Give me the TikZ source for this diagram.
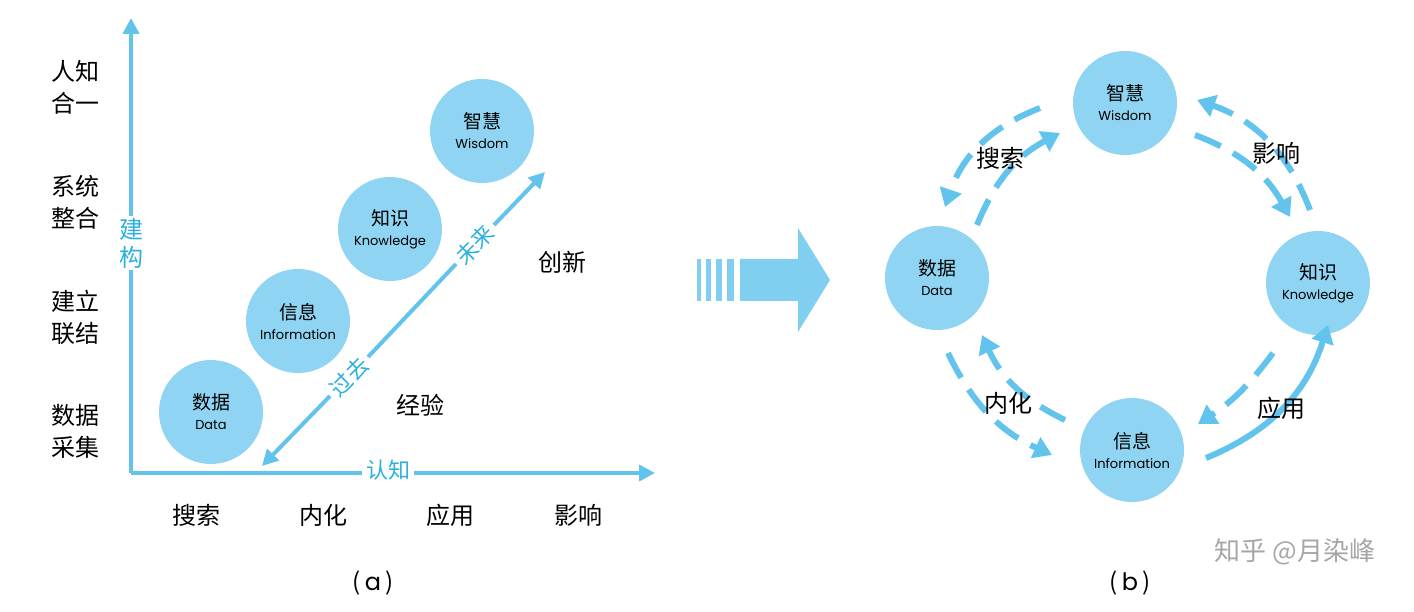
\documentclass[tikz,border=0pt]{standalone}
\usepackage{fontspec}
\setmainfont{Noto Sans CJK SC}
\newfontfamily\en{Poppins}
\usetikzlibrary{arrows.meta}
\definecolor{cb}{HTML}{8FD4F2}
\definecolor{ca}{HTML}{62C3EC}
\definecolor{cl}{HTML}{2BB0E0}
\begin{document}
\begin{tikzpicture}[x=1pt,y=-1pt,
  ball/.style={circle,fill=cb,minimum size=104pt,inner sep=0pt,align=center,font=\fontsize{19}{20}\selectfont},
  lbl/.style={font=\fontsize{24}{32}\selectfont,align=center},
  clbl/.style={font=\fontsize{22}{24}\selectfont,text=cl},
  ax/.style={ca,line width=4pt,-{Triangle[length=16pt,width=16pt]}},
  axl/.style={ca,line width=4pt},
  cyc/.style={ca,line width=6pt,-{Triangle[length=18pt,width=22pt]}},
  dsh/.style={dash pattern=on 28pt off 14pt}]
\useasboundingbox (0,0) rectangle (1414,612);
% left panel
\coordinate (o) at (131,473);
\coordinate (yt) at (131,18);
\coordinate (xt) at (655,473);
\draw[ax] (o) -- (yt);
\draw[ax] (o) -- (xt);
\node[clbl,fill=white,inner sep=4pt] (rz) at (388,470) {认知};
\node[clbl,fill=white,inner sep=2pt,align=center,font=\fontsize{24}{28}\selectfont] (jg) at (131,243) {建\\构};
\node[lbl] (l1) at (75,87) {人知\\合一};
\node[lbl] (l2) at (75,202) {系统\\整合};
\node[lbl] (l3) at (75,317) {建立\\联结};
\node[lbl] (l4) at (75,431) {数据\\采集};
\node[lbl] (b1) at (196,515) {搜索};
\node[lbl] (b2) at (323,515) {内化};
\node[lbl] (b3) at (450,515) {应用};
\node[lbl] (b4) at (578,515) {影响};
\node[lbl] (pa) at (373,583) {(\,{\en a}\,)};
\node[ball] (d1) at (211,412) {数据\\{\en\fontsize{13}{14}\selectfont Data}};
\node[ball] (i1) at (298,321) {信息\\{\en\fontsize{13}{14}\selectfont Information}};
\node[ball] (k1) at (390,229) {知识\\{\en\fontsize{13}{14}\selectfont Knowledge}};
\node[ball] (w1) at (482,131) {智慧\\{\en\fontsize{13}{14}\selectfont Wisdom}};
\coordinate (dt) at (545,172);
\coordinate (db) at (262,466);
\coordinate (g1) at (330,396); \coordinate (g2) at (368,357);
\coordinate (w1a) at (456,264); \coordinate (w1b) at (494,225);
\node[clbl,rotate=45,inner sep=1pt] (wl) at (475,245) {未来};
\node[clbl,rotate=45,inner sep=1pt] (gq) at (349,377) {过去};
\draw[ax] (w1b) -- (dt);
\draw[axl] (w1a) -- (g2);
\draw[ax] (g1) -- (db);
\node[lbl] (cx) at (562,262) {创新};
\node[lbl] (jy) at (420,405) {经验};
% big arrow
\foreach \x/\w in {697/4,706/5,716/6,727/7} \fill[ca!80] (\x,259) rectangle ++(\w,42);
\fill[ca!80] (740,259) -- (798,259) -- (798,228) -- (830,280) -- (798,332) -- (798,301) -- (740,301) -- cycle;
% right panel
\node[ball] (w2) at (1125,103) {智慧\\{\en\fontsize{13}{14}\selectfont Wisdom}};
\node[ball] (d2) at (937,278) {数据\\{\en\fontsize{13}{14}\selectfont Data}};
\node[ball] (k2) at (1318,283) {知识\\{\en\fontsize{13}{14}\selectfont Knowledge}};
\node[ball] (i2) at (1132,450) {信息\\{\en\fontsize{13}{14}\selectfont Information}};
\coordinate (a1) at (1040,108); \coordinate (a2) at (945,207);
\coordinate (a3) at (977,225); \coordinate (a4) at (1060,133);
\coordinate (b1s) at (1310,210); \coordinate (b1e) at (1197,100);
\coordinate (b2s) at (1195,135); \coordinate (b2e) at (1290,217);
\coordinate (c1s) at (1206,458); \coordinate (c1e) at (1328,325);
\coordinate (c2s) at (1273,353); \coordinate (c2e) at (1198,424);
\coordinate (e1s) at (1065,420); \coordinate (e1e) at (982,335);
\coordinate (e2s) at (948,353); \coordinate (e2e) at (1052,455);
\draw[cyc,dsh] (a1) to[bend right=25] (a2);
\draw[cyc,dsh] (a3) to[bend left=20] (a4);
\draw[cyc,dsh] (b1s) to[bend right=25] (b1e);
\draw[cyc,dsh] (b2s) to[bend left=20] (b2e);
\draw[cyc] (c1s) to[bend right=25] (c1e);
\draw[cyc,dsh] (c2s) to[bend left=10] (c2e);
\draw[cyc,dsh] (e1s) to[bend left=20] (e1e);
\draw[cyc,dsh] (e2s) to[bend right=20] (e2e);
\node[lbl] (r1) at (1000,158) {搜索};
\node[lbl] (r2) at (1276,153) {影响};
\node[lbl] (r3) at (1008,403) {内化};
\node[lbl] (r4) at (1281,408) {应用};
\node[lbl] (pb) at (1130,583) {(\,{\en b}\,)};
\node[font=\fontsize{26}{28}\selectfont,text=black!35] (wm) at (1295,552) {知乎 @月染峰};
\end{tikzpicture}
\end{document}
